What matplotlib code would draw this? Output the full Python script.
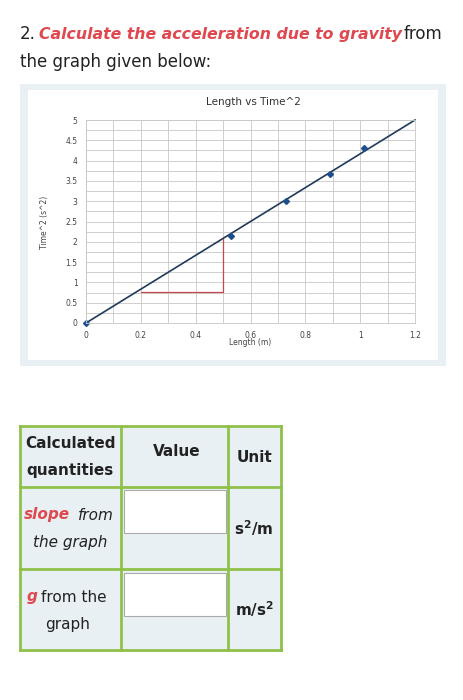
import matplotlib.pyplot as plt
from matplotlib.patches import Rectangle

# data
length = [0, 0.53, 0.73, 0.89, 1.015]
time_sq = [0, 2.15, 3.0, 3.67, 4.3]
fit_x = [0, 1.2]
fit_y = [0, 5.0]
tri_x = [0.2, 0.5, 0.5]
tri_y = [0.77, 0.77, 2.08]
x_ticks = [0, 0.2, 0.4, 0.6, 0.8, 1, 1.2]
x_labels = ['0', '0.2', '0.4', '0.6', '0.8', '1', '1.2']
y_ticks = [0, 0.5, 1, 1.5, 2, 2.5, 3, 3.5, 4, 4.5, 5]
y_labels = ['0', '0.5', '1', '1.5', '2', '2.5', '3', '3.5', '4', '4.5', '5']

W, H = 463, 700
fig = plt.figure(figsize=(W / 100, H / 100), dpi=100)
fig.patch.set_facecolor('white')

# page overlay in pixel coordinates
pg = fig.add_axes([0, 0, 1, 1])
pg.set_xlim(0, W)
pg.set_ylim(H, 0)
pg.axis('off')

# question text
pg.text(20, 34, '2.', fontsize=12, va='center', color='#222222')
pg.text(39, 34, 'Calculate the acceleration due to gravity', fontsize=11.3, va='center',
        color='#e0484f', fontweight='bold', style='italic')
pg.text(404, 34, 'from', fontsize=12, va='center', color='#222222')
pg.text(20, 62, 'the graph given below:', fontsize=12, va='center', color='#222222')

# chart panel
pg.add_patch(Rectangle((20, 84), 426, 282, facecolor='#e9f0f4', edgecolor='none'))
pg.add_patch(Rectangle((28, 90), 410, 270, facecolor='white', edgecolor='none'))
pg.text(253, 102, 'Length vs Time^2', fontsize=7.5, ha='center', va='center', color='#333333')
pg.text(44, 222, 'Time^2 (s^2)', fontsize=5.5, rotation=90, ha='center', va='center', color='#444444')

ax = fig.add_axes([86 / W, 1 - 323 / H, 329 / W, 203 / H])
ax.set_xlim(0, 1.2)
ax.set_ylim(0, 5)
ax.set_xticks(x_ticks)
ax.set_xticklabels(x_labels)
ax.set_yticks(y_ticks)
ax.set_yticklabels(y_labels)
ax.set_xticks([i / 10 for i in range(13)], minor=True)
ax.set_yticks([i / 4 for i in range(21)], minor=True)
ax.grid(which='both', color='#c8c8c8', linewidth=0.6)
ax.tick_params(which='both', length=0, labelsize=5.5, labelcolor='#444444', pad=6)
ax.set_axisbelow(True)
for s in ax.spines.values():
    s.set_color('#c8c8c8')
    s.set_linewidth(0.6)
ax.set_xlabel('Length (m)', fontsize=5.5, color='#444444', labelpad=-2)
ax.plot(fit_x, fit_y, color='#1f3a5a', linewidth=1.2, clip_on=False)
ax.plot(tri_x, tri_y, color='#c8474a', linewidth=0.9)
ax.plot(length, time_sq, 'D', color='#1f4e8c', markersize=3, clip_on=False)

# table
green = '#8fc14a'
pg.add_patch(Rectangle((20, 426), 261, 224, facecolor='#e9f0f4', edgecolor='none'))
for x in [20, 121, 228, 281]:
    pg.plot([x, x], [426, 650], color=green, linewidth=2)
for y in [426, 487, 569, 650]:
    pg.plot([20, 281], [y, y], color=green, linewidth=2)
for y0 in [490, 573]:
    pg.add_patch(Rectangle((124, y0), 102, 43, facecolor='white', edgecolor='#aaaaaa', linewidth=0.8))

dark = '#222222'
red = '#e0484f'
fs = 11
pg.text(70, 443, 'Calculated', fontsize=fs, fontweight='bold', ha='center', va='center', color=dark)
pg.text(70, 470, 'quantities', fontsize=fs, fontweight='bold', ha='center', va='center', color=dark)
pg.text(177, 452, 'Value', fontsize=fs, fontweight='bold', ha='center', va='center', color=dark)
pg.text(255, 457, 'Unit', fontsize=fs, fontweight='bold', ha='center', va='center', color=dark)
pg.text(24, 515, 'slope', fontsize=fs, fontweight='bold', style='italic', va='center', color=red)
pg.text(78, 515, 'from', fontsize=fs, style='italic', va='center', color=dark)
pg.text(70, 542, 'the graph', fontsize=fs, style='italic', ha='center', va='center', color=dark)
pg.text(254, 528, r'$\mathbf{s^2/m}$', fontsize=fs, ha='center', va='center', color=dark)
pg.text(27, 597, 'g', fontsize=fs, fontweight='bold', style='italic', va='center', color=red)
pg.text(41, 597, 'from the', fontsize=fs, va='center', color=dark)
pg.text(68, 624, 'graph', fontsize=fs, ha='center', va='center', color=dark)
pg.text(255, 609, r'$\mathbf{m/s^2}$', fontsize=fs, ha='center', va='center', color=dark)

fig.savefig('out.png', dpi=100)
